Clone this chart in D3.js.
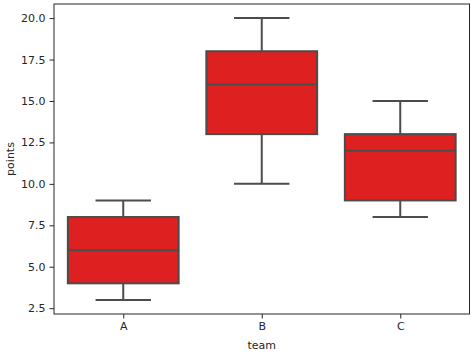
<!DOCTYPE html>
<html>
<head>
<meta charset="utf-8">
<script src="https://cdn.jsdelivr.net/npm/d3@7"></script>
<style>
  body { margin: 0; background: #fff; }
  text { font-family: "DejaVu Sans", sans-serif; fill: #262626; }
</style>
</head>
<body>
<div id="chart"></div>
<script>
// box stats per team
const teams = ["A", "B", "C"];
const whiskerLow = [3, 10, 8];
const q1 = [4, 13, 9];
const medians = [6, 16, 12];
const q3 = [8, 18, 13];
const whiskerHigh = [9, 20, 15];
const yTicks = [2.5, 5.0, 7.5, 10.0, 12.5, 15.0, 17.5, 20.0];

const width = 474, height = 352;
const margin = { top: 4, right: 4.5, bottom: 38, left: 54 };

const svg = d3.select("#chart").append("svg")
    .attr("width", width)
    .attr("height", height);

const x = d3.scaleLinear()
    .domain([-0.5, teams.length - 0.5])
    .range([margin.left, width - margin.right]);

const y = d3.scaleLinear()
    .domain([2.15, 20.85])
    .range([height - margin.bottom, margin.top]);

const lineColor = "#4c4c4c";
const fillColor = "#df2020";
const boxW = (x(0.8) - x(0));
const capW = boxW / 2;

const data = teams.map((t, i) => ({
    team: t, i: i,
    lo: whiskerLow[i], q1: q1[i], med: medians[i], q3: q3[i], hi: whiskerHigh[i]
}));

const g = svg.append("g");

const boxes = g.selectAll(".box")
    .data(data)
    .enter().append("g")
    .attr("class", "box");

// whiskers
boxes.append("line")
    .attr("x1", d => x(d.i)).attr("x2", d => x(d.i))
    .attr("y1", d => y(d.lo)).attr("y2", d => y(d.q1))
    .attr("stroke", lineColor).attr("stroke-width", 2);
boxes.append("line")
    .attr("x1", d => x(d.i)).attr("x2", d => x(d.i))
    .attr("y1", d => y(d.q3)).attr("y2", d => y(d.hi))
    .attr("stroke", lineColor).attr("stroke-width", 2);
// caps
boxes.append("line")
    .attr("x1", d => x(d.i) - capW / 2).attr("x2", d => x(d.i) + capW / 2)
    .attr("y1", d => y(d.lo)).attr("y2", d => y(d.lo))
    .attr("stroke", lineColor).attr("stroke-width", 2);
boxes.append("line")
    .attr("x1", d => x(d.i) - capW / 2).attr("x2", d => x(d.i) + capW / 2)
    .attr("y1", d => y(d.hi)).attr("y2", d => y(d.hi))
    .attr("stroke", lineColor).attr("stroke-width", 2);
// box
boxes.append("rect")
    .attr("x", d => x(d.i) - boxW / 2)
    .attr("width", boxW)
    .attr("y", d => y(d.q3))
    .attr("height", d => y(d.q1) - y(d.q3))
    .attr("fill", fillColor)
    .attr("stroke", lineColor).attr("stroke-width", 2);
// median
boxes.append("line")
    .attr("x1", d => x(d.i) - boxW / 2).attr("x2", d => x(d.i) + boxW / 2)
    .attr("y1", d => y(d.med)).attr("y2", d => y(d.med))
    .attr("stroke", lineColor).attr("stroke-width", 2);

// axes
const xAxis = svg.append("g")
    .attr("transform", `translate(0,${height - margin.bottom})`)
    .call(d3.axisBottom(x).tickValues(d3.range(teams.length)).tickFormat(i => teams[i]).tickSize(4.5).tickPadding(4));
const yAxis = svg.append("g")
    .attr("transform", `translate(${margin.left},0)`)
    .call(d3.axisLeft(y).tickValues(yTicks).tickFormat(d3.format(".1f")).tickSize(4.5).tickPadding(4));

[xAxis, yAxis].forEach(a => {
    a.select(".domain").remove();
    a.selectAll(".tick line").attr("stroke", "#262626").attr("stroke-width", 1);
    a.selectAll(".tick text").style("font-size", "11px").attr("fill", "#262626");
});

// frame
svg.append("rect")
    .attr("x", margin.left).attr("y", margin.top)
    .attr("width", width - margin.left - margin.right)
    .attr("height", height - margin.top - margin.bottom)
    .attr("fill", "none").attr("stroke", "#262626").attr("stroke-width", 1);

svg.append("text")
    .attr("x", (margin.left + width - margin.right) / 2)
    .attr("y", height - 3)
    .attr("text-anchor", "middle")
    .style("font-size", "11px")
    .text("team");

svg.append("text")
    .attr("transform", `translate(14,${(margin.top + height - margin.bottom) / 2}) rotate(-90)`)
    .attr("text-anchor", "middle")
    .style("font-size", "11px")
    .text("points");
</script>
</body>
</html>
